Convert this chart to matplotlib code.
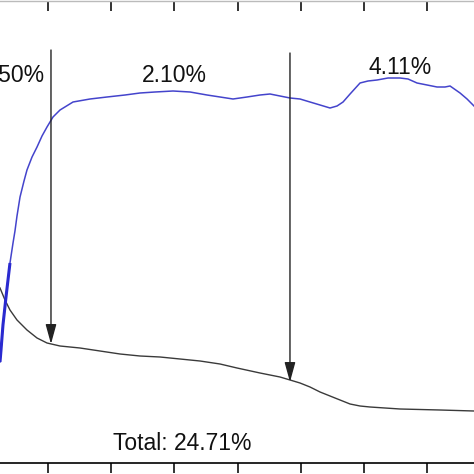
import matplotlib
matplotlib.use("Agg")
import matplotlib.pyplot as plt

plt.rcParams['font.family'] = ['Liberation Sans', 'DejaVu Sans']

# temperature-like x values and signal values (arbitrary units)
black_x = [24, 31.9, 39.8, 50.9, 66.7, 82.6, 98.4, 119, 150.6, 182.3, 214,
           245.6, 277.3, 309, 340.6, 372.3, 399.2, 435.6, 467.2, 483.1, 498.9, 514.7, 530.6,
           554.3, 578.1, 593.9, 609.7, 657.2, 720.5, 774.3]
black_y = [175, 163, 153, 143, 133, 125, 120, 117, 115, 112, 109, 107, 106, 104,
           102, 99, 95, 90, 86, 83, 80, 76, 71, 65, 59, 57, 56, 54, 53, 52]

blue_x = [24, 25.6, 28.7, 33.5, 39.8, 44.6, 47.7, 50.9, 55.7, 62, 66.7, 74.7, 82.6, 90.5, 98.4,
          107.9, 119, 139.6, 166.5, 193.4, 221.9, 245.6, 269.4, 297.9, 324.8, 351.7, 372.3,
          392.8, 415, 435.6, 451.4, 467.2, 483.1, 498.9, 514.7, 530.6, 546.4, 557.5, 567,
          578.1, 593.9, 606.5, 620.8, 638.2, 657.2, 669.9, 684.1, 700, 715.8, 728.4, 736.4,
          752.2, 763.3, 774.3]
blue_y = [101, 113, 138, 166, 200, 220, 232, 247, 266, 282, 293, 306, 316, 327, 336, 346, 353,
          361, 364, 366, 368, 370, 371, 372, 371, 368, 366, 364, 366, 368, 369, 367, 365, 364,
          361, 358, 355, 357, 361, 369, 380, 382, 383, 385, 385, 384, 380, 378, 376, 376, 377,
          370, 364, 357]

x_ticks = [100, 200, 300, 400, 500, 600, 700]

step_x = [104.7, 483]
step_top = [413, 410]
step_bottom = [119, 81]

labels = ["1.50%", "2.10%", "4.11%"]
label_x = [95, 299.4, 657]
label_y = [387, 387, 396]
label_ha = ["right", "center", "center"]
total_text = "Total: 24.71%"

fig = plt.figure(figsize=(4.74, 4.74), dpi=100)
ax = fig.add_axes([0, 11 / 474, 1, 462 / 474])

ax.plot(black_x, black_y, color='#3a3a3a', lw=1.0)
ax.plot(blue_x, blue_y, color='#4444cc', lw=1.1)
ax.plot(blue_x[:5], blue_y[:5], color='#2a2ad0', lw=2.2, solid_capstyle='butt')

for xs, yt, yb in zip(step_x, step_top, step_bottom):
    ax.annotate('', xy=(xs, yb), xytext=(xs, yt),
                arrowprops=dict(arrowstyle='-|>,head_length=0.8,head_width=0.22',
                                color='#222222', lw=1.0, mutation_scale=15,
                                shrinkA=0, shrinkB=0))

for t, x, y, ha in zip(labels, label_x, label_y, label_ha):
    ax.text(x, y, t, ha=ha, va='center', fontsize=16.5, color='#111111')
ax.text(312, 19, total_text, ha='center', va='center', fontsize=16.5, color='#111111')

ax.set_xlim(24, 774.3)
ax.set_ylim(0, 462)
ax.set_xticks(x_ticks)
ax.set_yticks([])
ax.tick_params(axis='x', which='both', bottom=True, top=True, labelbottom=False,
               labeltop=False, length=7.5, width=1.2, color='#111111', direction='out')
for t in ax.xaxis.get_major_ticks():
    t.tick2line.set_marker(3)  # top tick pointing down (inward)
ax.spines['left'].set_visible(False)
ax.spines['right'].set_visible(False)
ax.spines['bottom'].set_linewidth(1.2)
ax.spines['top'].set_color('#bbbbbb')
ax.spines['top'].set_linewidth(1.0)

fig.savefig('out.png', dpi=100)
